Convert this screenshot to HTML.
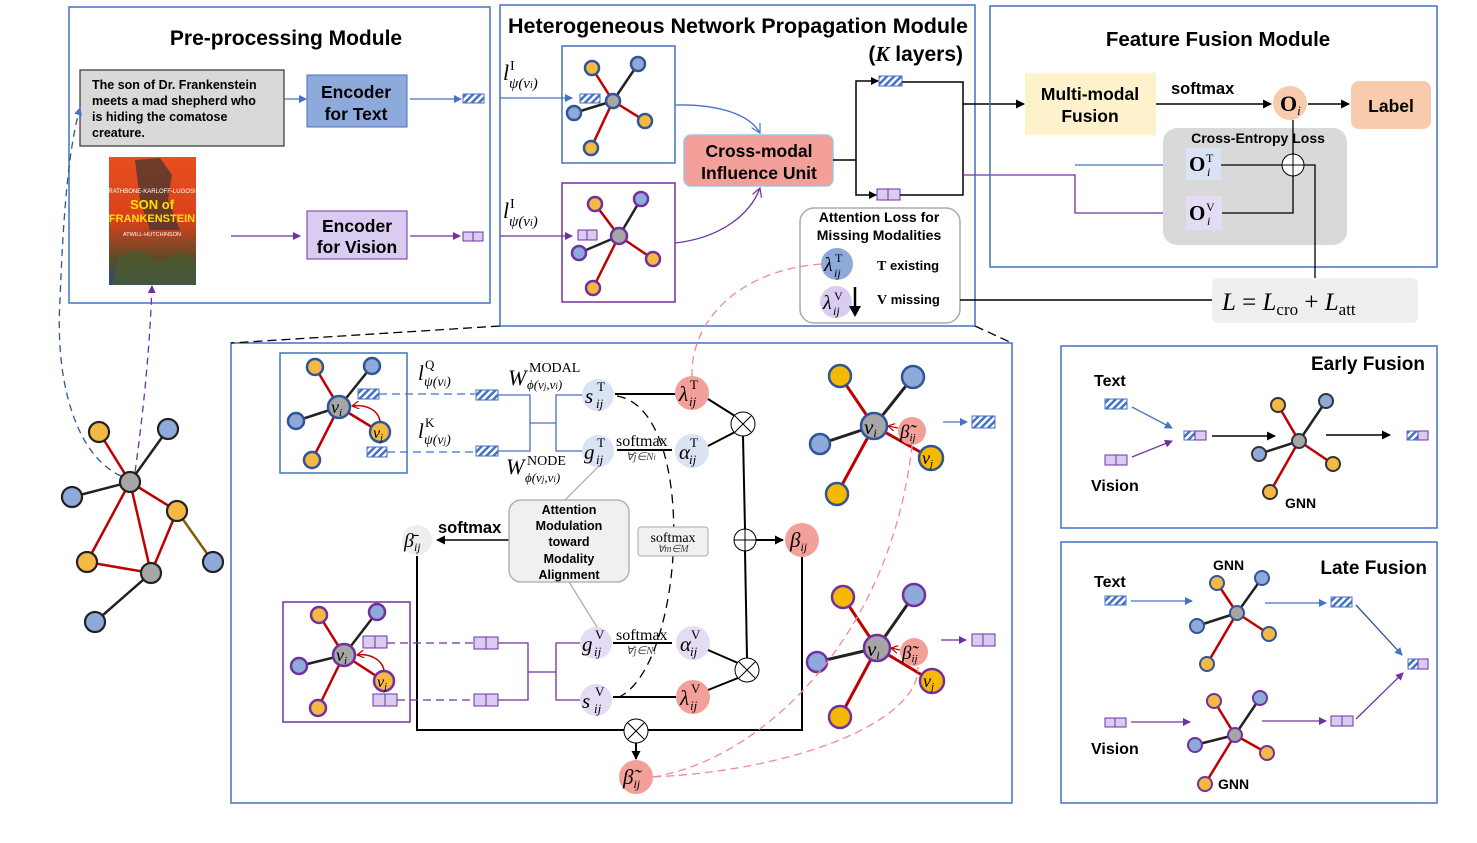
<!DOCTYPE html>
<html><head><meta charset="utf-8"><style>
html,body{margin:0;padding:0;background:#fff}
svg{display:block}
.b{font-family:"Liberation Sans",sans-serif;font-weight:bold}
.m{font-family:"Liberation Serif",serif;font-style:italic}
.r{font-family:"Liberation Serif",serif}
</style></head><body>
<svg width="1477" height="843" viewBox="0 0 1477 843" xmlns="http://www.w3.org/2000/svg">
<defs>
<pattern id="h" width="5" height="5" patternUnits="userSpaceOnUse" patternTransform="rotate(45)">
<rect width="5" height="5" fill="#fff"/><rect width="2.5" height="5" fill="#4472c4"/></pattern>
<marker id="ab" markerWidth="8" markerHeight="8" refX="7" refY="4" orient="auto" markerUnits="userSpaceOnUse"><path d="M0,0L8,4L0,8z" fill="#4472c4"/></marker>
<marker id="ap" markerWidth="8" markerHeight="8" refX="7" refY="4" orient="auto" markerUnits="userSpaceOnUse"><path d="M0,0L8,4L0,8z" fill="#7030a0"/></marker>
<marker id="ak" markerWidth="9" markerHeight="9" refX="8" refY="4.5" orient="auto" markerUnits="userSpaceOnUse"><path d="M0,0L9,4.5L0,9z" fill="#000"/></marker>
<marker id="vb" markerWidth="10" markerHeight="10" refX="9" refY="5" orient="auto" markerUnits="userSpaceOnUse"><path d="M0,0L9,5L0,10" fill="none" stroke="#4472c4" stroke-width="1.2"/></marker>
<marker id="vp" markerWidth="10" markerHeight="10" refX="9" refY="5" orient="auto" markerUnits="userSpaceOnUse"><path d="M0,0L9,5L0,10" fill="none" stroke="#7030a0" stroke-width="1.2"/></marker>
<marker id="vr" markerWidth="8" markerHeight="8" refX="7" refY="4" orient="auto" markerUnits="userSpaceOnUse"><path d="M0,0L7,4L0,8" fill="none" stroke="#c00000" stroke-width="1.2"/></marker>
</defs>

<!-- Pre-processing module -->
<rect x="69" y="7" width="421" height="296" fill="none" stroke="#4472c4" stroke-width="1.5"/>
<text x="286" y="45" class="b" font-size="21" text-anchor="middle">Pre-processing Module</text>
<rect x="80" y="70" width="204" height="76" fill="#d9d9d9" stroke="#333" stroke-width="1.2"/>
<text class="b" font-size="12.5"><tspan x="92" y="89">The son of Dr. Frankenstein</tspan><tspan x="92" y="105">meets a mad shepherd who</tspan><tspan x="92" y="121">is hiding the comatose</tspan><tspan x="92" y="137">creature.</tspan></text>
<rect x="307" y="75" width="100" height="52" fill="#8eaadb" stroke="#4472c4"/>
<text class="b" font-size="17.5" text-anchor="middle"><tspan x="356" y="98">Encoder</tspan><tspan x="356" y="120">for Text</tspan></text>
<rect x="307" y="211" width="100" height="48" fill="#d9ccf0" stroke="#7030a0"/>
<text class="b" font-size="17.5" text-anchor="middle"><tspan x="357" y="232">Encoder</tspan><tspan x="357" y="253">for Vision</tspan></text>
<line x1="284" y1="99" x2="306" y2="99" stroke="#4472c4" stroke-width="1.3" marker-end="url(#ab)"/>
<line x1="410" y1="99" x2="461" y2="99" stroke="#4472c4" stroke-width="1.3" marker-end="url(#ab)"/>
<rect x="463" y="94" width="21" height="9" fill="url(#h)" stroke="#4472c4"/>
<line x1="231" y1="236" x2="300" y2="236" stroke="#7030a0" stroke-width="1.3" marker-end="url(#ap)"/>
<line x1="410" y1="236" x2="460" y2="236" stroke="#7030a0" stroke-width="1.3" marker-end="url(#ap)"/>
<rect x="463" y="232" width="20" height="9" fill="#d9ccf0" stroke="#7030a0"/><line x1="473" y1="232" x2="473" y2="241" stroke="#7030a0"/>
<defs><linearGradient id="pg" x1="0" y1="0" x2="0" y2="1"><stop offset="0" stop-color="#e8501e"/><stop offset="0.5" stop-color="#d8401a"/><stop offset="0.8" stop-color="#5a4a2a"/><stop offset="1" stop-color="#2b4a7a"/></linearGradient></defs>
<rect x="109" y="157" width="87" height="128" fill="url(#pg)"/>
<path d="M135,160 L160,158 L172,175 L168,200 L180,230 L150,230 L140,200 Z" fill="#3a3530" opacity="0.7"/>
<text x="152" y="193" font-family="Liberation Sans" font-size="6" fill="#fff" text-anchor="middle">RATHBONE-KARLOFF-LUGOSI</text>
<text x="152" y="209" class="b" font-size="13" fill="#ffe000" text-anchor="middle">SON of</text>
<text x="152" y="222" class="b" font-size="11" fill="#ffe000" text-anchor="middle">FRANKENSTEIN</text>
<text x="152" y="236" font-family="Liberation Sans" font-size="5.5" fill="#fff" text-anchor="middle">ATWILL-HUTCHINSON</text>
<path d="M112,285 L120,255 L140,250 L160,262 L180,252 L196,262 L196,285 Z" fill="#4a5a30" opacity="0.8"/>

<!-- Heterogeneous module -->
<rect x="500" y="5" width="475" height="321" fill="none" stroke="#4472c4" stroke-width="1.5"/>
<text x="738" y="33" class="b" font-size="21.5" text-anchor="middle">Heterogeneous Network Propagation Module</text>
<text x="963" y="61" class="b" font-size="21" text-anchor="end">(<tspan class="m" font-weight="bold" font-family="Liberation Serif">K</tspan> layers)</text>
<rect x="562" y="46" width="113" height="117" fill="none" stroke="#4472c4" stroke-width="1.5"/>
<rect x="562" y="183" width="113" height="119" fill="none" stroke="#7030a0" stroke-width="1.5"/>
<g stroke-width="2.5">
<line x1="613" y1="101" x2="592" y2="68" stroke="#c00000"/><line x1="613" y1="101" x2="638" y2="64" stroke="#222"/><line x1="613" y1="101" x2="574" y2="113" stroke="#222"/><line x1="613" y1="101" x2="645" y2="121" stroke="#c00000"/><line x1="613" y1="101" x2="591" y2="148" stroke="#c00000"/>
<line x1="619" y1="236" x2="595" y2="204" stroke="#c00000"/><line x1="619" y1="236" x2="641" y2="199" stroke="#222"/><line x1="619" y1="236" x2="579" y2="253" stroke="#222"/><line x1="619" y1="236" x2="653" y2="259" stroke="#c00000"/><line x1="619" y1="236" x2="593" y2="288" stroke="#c00000"/>
</g>
<g stroke="#2f5597" stroke-width="2.5">
<circle cx="592" cy="68" r="7" fill="#f4b942"/><circle cx="638" cy="64" r="7" fill="#8eaadb"/><circle cx="574" cy="113" r="7" fill="#8eaadb"/><circle cx="645" cy="121" r="7" fill="#f4b942"/><circle cx="591" cy="148" r="7" fill="#f4b942"/><circle cx="613" cy="101" r="7" fill="#a6a6a6"/>
</g>
<g stroke="#7030a0" stroke-width="2.5">
<circle cx="595" cy="204" r="7" fill="#f4b942"/><circle cx="641" cy="199" r="7" fill="#8eaadb"/><circle cx="579" cy="253" r="7" fill="#8eaadb"/><circle cx="653" cy="259" r="7" fill="#f4b942"/><circle cx="593" cy="288" r="7" fill="#f4b942"/><circle cx="619" cy="236" r="8" fill="#a6a6a6"/>
</g>
<text x="503" y="80" class="m" font-size="22">l</text><text x="510" y="70" class="r" font-size="14">I</text><text x="509" y="88" class="m" font-size="15">ψ(v<tspan font-size="10">i</tspan>)</text>
<text x="503" y="218" class="m" font-size="22">l</text><text x="510" y="208" class="r" font-size="14">I</text><text x="509" y="226" class="m" font-size="15">ψ(v<tspan font-size="10">i</tspan>)</text>
<line x1="500" y1="98" x2="572" y2="98" stroke="#4472c4" stroke-width="1.3" marker-end="url(#ab)"/>
<rect x="580" y="94" width="20" height="9" fill="url(#h)" stroke="#4472c4"/>
<line x1="500" y1="236" x2="572" y2="236" stroke="#7030a0" stroke-width="1.3" marker-end="url(#ap)"/>
<rect x="578" y="230" width="19" height="10" fill="#d9ccf0" stroke="#7030a0"/><line x1="587" y1="230" x2="587" y2="240" stroke="#7030a0"/>
<rect x="684" y="135" width="149" height="51" rx="7" fill="#f4a09a" stroke="#9dc3e6" stroke-width="1.5"/>
<text class="b" font-size="17.5" text-anchor="middle"><tspan x="759" y="157">Cross-modal</tspan><tspan x="759" y="179">Influence Unit</tspan></text>
<path d="M675,105 C720,104 750,115 760,133" fill="none" stroke="#4472c4" stroke-width="1.3" marker-end="url(#vb)"/>
<path d="M675,243 C720,238 750,215 760,188" fill="none" stroke="#7030a0" stroke-width="1.3" marker-end="url(#vp)"/>
<polyline points="833,160 856,160" fill="none" stroke="#000" stroke-width="1.5"/>
<polyline points="878,81 856,81 856,195 876,195" fill="none" stroke="#000" stroke-width="1.5"/>
<path d="M871,77 L879,81 L871,85z M869,191 L877,195 L869,199z"/>
<rect x="879" y="76" width="23" height="10" fill="url(#h)" stroke="#4472c4"/>
<rect x="877" y="189" width="23" height="11" fill="#d9ccf0" stroke="#7030a0"/><line x1="888" y1="189" x2="888" y2="200" stroke="#7030a0"/>
<polyline points="902,82 963,82 963,195 900,195" fill="none" stroke="#000" stroke-width="1.5"/>
<line x1="963" y1="104" x2="1024" y2="104" stroke="#000" stroke-width="1.5" marker-end="url(#ak)"/>
<polyline points="963,175 1075,175 1075,213 1184,213" fill="none" stroke="#7030a0" stroke-width="1.3" marker-end="url(#ap)"/>
<polyline points="1075,165 1184,165" fill="none" stroke="#4472c4" stroke-width="1.3" marker-end="url(#ab)"/>
<rect x="800" y="208" width="160" height="115" rx="14" fill="#fff" stroke="#aaa" stroke-width="1.5"/>
<text class="b" font-size="14" text-anchor="middle"><tspan x="879" y="222">Attention Loss for</tspan><tspan x="879" y="240">Missing Modalities</tspan></text>
<circle cx="837" cy="264" r="16" fill="#8eaadb"/>
<circle cx="836" cy="302" r="16" fill="#d9ccf0"/>
<text x="824" y="271" class="m" font-size="20">λ</text><text x="835" y="262" class="r" font-size="12">T</text><text x="834" y="277" class="m" font-size="12">ij</text>
<text x="823" y="309" class="m" font-size="20">λ</text><text x="834" y="300" class="r" font-size="12">V</text><text x="833" y="315" class="m" font-size="12">ij</text>
<line x1="855" y1="287" x2="855" y2="309" stroke="#000" stroke-width="2.5"/><path d="M849,306 L861,306 L855,317z"/>
<text x="877" y="270" class="b" font-size="13"><tspan class="r" font-weight="bold" font-size="14">T</tspan> existing</text>
<text x="877" y="304" class="b" font-size="13"><tspan class="r" font-weight="bold" font-size="14">V</tspan> missing</text>
<line x1="960" y1="300" x2="1212" y2="300" stroke="#000" stroke-width="1.5"/>

<!-- Feature Fusion -->
<rect x="990" y="6" width="447" height="261" fill="none" stroke="#4472c4" stroke-width="1.5"/>
<text x="1218" y="46" class="b" font-size="20.5" text-anchor="middle">Feature Fusion Module</text>
<rect x="1025" y="73" width="131" height="62" fill="#fdf2cc"/>
<text class="b" font-size="17.5" text-anchor="middle"><tspan x="1090" y="100">Multi-modal</tspan><tspan x="1090" y="122">Fusion</tspan></text>
<text x="1171" y="94" class="b" font-size="16.5">softmax</text>
<line x1="1156" y1="104" x2="1271" y2="104" stroke="#000" stroke-width="1.5" marker-end="url(#ak)"/>
<circle cx="1290" cy="103" r="17" fill="#f8cbad"/>
<text x="1280" y="111" class="r" font-weight="bold" font-size="22">O<tspan class="m" font-weight="normal" font-size="13" dy="4">i</tspan></text>
<line x1="1308" y1="104" x2="1349" y2="104" stroke="#000" stroke-width="1.5" marker-end="url(#ak)"/>
<rect x="1351" y="81" width="80" height="48" rx="8" fill="#f8cbad"/>
<text x="1391" y="112" class="b" font-size="17.5" text-anchor="middle">Label</text>
<rect x="1163" y="128" width="184" height="117" rx="14" fill="#d9d9d9"/>
<text x="1258" y="143" class="b" font-size="14" text-anchor="middle">Cross-Entropy Loss</text>
<rect x="1186" y="148" width="35" height="32" fill="#dae3f3"/>
<text x="1189" y="171" class="r" font-weight="bold" font-size="21">O</text><text x="1206" y="162" class="r" font-size="12">T</text><text x="1207" y="176" class="m" font-size="12">i</text>
<rect x="1186" y="196" width="36" height="34" fill="#e4dcf5"/>
<text x="1189" y="220" class="r" font-weight="bold" font-size="21">O</text><text x="1206" y="211" class="r" font-size="12">V</text><text x="1207" y="225" class="m" font-size="12">i</text>
<circle cx="1293" cy="165" r="11" fill="#fff" stroke="#000"/><path d="M1282,165H1304M1293,154V176" stroke="#000"/>
<line x1="1221" y1="165" x2="1282" y2="165" stroke="#000" stroke-width="1.3"/>
<polyline points="1222,213 1293,213 1293,176" fill="none" stroke="#000" stroke-width="1.3"/>
<line x1="1293" y1="154" x2="1293" y2="120" stroke="#000" stroke-width="1.3"/>
<polyline points="1304,165 1315,165 1315,278" fill="none" stroke="#000" stroke-width="1.3"/>
<rect x="1212" y="278" width="206" height="45" rx="6" fill="#efefef"/>
<text x="1222" y="310" class="r" font-size="25"><tspan class="m">L</tspan> = <tspan class="m">L</tspan><tspan font-size="17" dy="5">cro</tspan><tspan dy="-5"> + </tspan><tspan class="m">L</tspan><tspan font-size="17" dy="5">att</tspan></text>

<!-- Left graph -->
<g stroke-width="2.5">
<line x1="130" y1="482" x2="99" y2="432" stroke="#c00000"/><line x1="130" y1="482" x2="168" y2="429" stroke="#222"/><line x1="130" y1="482" x2="72" y2="497" stroke="#222"/><line x1="130" y1="482" x2="177" y2="511" stroke="#c00000"/><line x1="130" y1="482" x2="87" y2="562" stroke="#c00000"/><line x1="130" y1="482" x2="151" y2="573" stroke="#c00000"/><line x1="87" y1="562" x2="151" y2="573" stroke="#c00000"/><line x1="151" y1="573" x2="95" y2="622" stroke="#222"/><line x1="177" y1="511" x2="213" y2="562" stroke="#7f6000"/><line x1="177" y1="511" x2="151" y2="573" stroke="#c00000"/>
</g>
<g stroke="#222" stroke-width="2.2">
<circle cx="99" cy="432" r="10" fill="#f4b942"/><circle cx="168" cy="429" r="10" fill="#8eaadb"/><circle cx="72" cy="497" r="10" fill="#8eaadb"/><circle cx="177" cy="511" r="10" fill="#f4b942"/><circle cx="87" cy="562" r="10" fill="#f4b942"/><circle cx="151" cy="573" r="10" fill="#a6a6a6"/><circle cx="95" cy="622" r="10" fill="#8eaadb"/><circle cx="213" cy="562" r="10" fill="#8eaadb"/><circle cx="130" cy="482" r="10" fill="#a6a6a6"/>
</g>
<path d="M121,476 C75,455 55,380 60,300 C63,220 68,150 80,108" fill="none" stroke="#2f5597" stroke-width="1.3" stroke-dasharray="7,5" marker-end="url(#ab)"/>
<path d="M135,472 C145,400 150,340 152,286" fill="none" stroke="#7030a0" stroke-width="1.3" stroke-dasharray="7,5" marker-end="url(#ap)"/>

<!-- Bottom box -->
<rect x="231" y="343" width="781" height="460" fill="none" stroke="#4472c4" stroke-width="1.5"/>
<line x1="500" y1="326" x2="231" y2="343" stroke="#000" stroke-width="1.3" stroke-dasharray="9,5"/>
<line x1="975" y1="326" x2="1012" y2="343" stroke="#000" stroke-width="1.3" stroke-dasharray="9,5"/>

<rect x="280" y="353" width="127" height="120" fill="none" stroke="#4472c4" stroke-width="1.5"/>
<g stroke-width="2.5">
<line x1="339" y1="407" x2="315" y2="367" stroke="#c00000"/><line x1="339" y1="407" x2="372" y2="366" stroke="#222"/><line x1="339" y1="407" x2="296" y2="421" stroke="#222"/><line x1="339" y1="407" x2="380" y2="432" stroke="#c00000"/><line x1="339" y1="407" x2="312" y2="460" stroke="#c00000"/>
</g>
<g stroke="#2f5597" stroke-width="2.5">
<circle cx="315" cy="367" r="8" fill="#f4b942"/><circle cx="372" cy="366" r="8" fill="#8eaadb"/><circle cx="296" cy="421" r="8" fill="#8eaadb"/><circle cx="380" cy="432" r="10" fill="#f4b942"/><circle cx="312" cy="460" r="8" fill="#f4b942"/><circle cx="339" cy="407" r="11" fill="#a6a6a6"/>
</g>
<path d="M380,421 C378,410 366,404 352,406" fill="none" stroke="#c00000" stroke-width="1.5" marker-end="url(#vr)"/>
<text x="331" y="413" class="m" font-size="18">v<tspan font-size="11" dy="3">i</tspan></text>
<text x="373" y="438" class="m" font-size="16">v<tspan font-size="10" dy="3">j</tspan></text>
<rect x="358" y="389" width="21" height="10" fill="url(#h)" stroke="#4472c4"/>
<rect x="367" y="447" width="20" height="10" fill="url(#h)" stroke="#4472c4"/>
<line x1="379" y1="394" x2="475" y2="394" stroke="#4472c4" stroke-width="1.3" stroke-dasharray="8,5"/>
<line x1="387" y1="452" x2="475" y2="452" stroke="#4472c4" stroke-width="1.3" stroke-dasharray="8,5"/>
<rect x="476" y="390" width="22" height="10" fill="url(#h)" stroke="#4472c4"/>
<rect x="476" y="446" width="22" height="10" fill="url(#h)" stroke="#4472c4"/>
<text x="418" y="380" class="m" font-size="21">l</text><text x="425" y="369" class="r" font-size="13">Q</text><text x="424" y="386" class="m" font-size="14">ψ(v<tspan font-size="9">i</tspan>)</text>
<text x="418" y="438" class="m" font-size="21">l</text><text x="425" y="427" class="r" font-size="13">K</text><text x="424" y="444" class="m" font-size="14">ψ(v<tspan font-size="9">j</tspan>)</text>
<polyline points="498,395 530,395 530,451 498,451" fill="none" stroke="#4472c4" stroke-width="1.3"/>
<polyline points="583,395 556,395 556,451 583,451" fill="none" stroke="#4472c4" stroke-width="1.3"/>
<line x1="530" y1="423" x2="556" y2="423" stroke="#4472c4" stroke-width="1.3"/>
<text x="508" y="385" class="m" font-size="22">W</text><text x="529" y="372" class="r" font-size="14">MODAL</text><text x="527" y="389" class="m" font-size="13">ϕ(v<tspan font-size="9">j</tspan>,v<tspan font-size="9">i</tspan>)</text>
<text x="506" y="474" class="m" font-size="22">W</text><text x="527" y="465" class="r" font-size="14">NODE</text><text x="525" y="482" class="m" font-size="13">ϕ(v<tspan font-size="9">j</tspan>,v<tspan font-size="9">i</tspan>)</text>

<path d="M617,396 C700,410 685,670 617,698" fill="none" stroke="#000" stroke-width="1.3" stroke-dasharray="9,6"/>
<line x1="615" y1="394" x2="676" y2="394" stroke="#000" stroke-width="2"/>
<line x1="617" y1="450" x2="672" y2="450" stroke="#000" stroke-width="2"/>
<line x1="613" y1="643" x2="672" y2="643" stroke="#000" stroke-width="2"/>
<line x1="613" y1="697" x2="676" y2="697" stroke="#000" stroke-width="2"/>
<circle cx="598" cy="395" r="16" fill="#dae3f3"/><circle cx="598" cy="451" r="16" fill="#dae3f3"/>
<circle cx="692" cy="393" r="17" fill="#f4a09a"/><circle cx="692" cy="451" r="17" fill="#dae3f3"/>
<circle cx="596" cy="643" r="16" fill="#e4dcf5"/><circle cx="596" cy="700" r="16" fill="#e4dcf5"/>
<circle cx="693" cy="643" r="17" fill="#e4dcf5"/><circle cx="693" cy="697" r="17" fill="#f4a09a"/>
<g font-size="21" class="m">
<text x="585" y="403">s</text><text x="584" y="459">g</text><text x="679" y="401">λ</text><text x="679" y="459">α</text>
<text x="582" y="651">g</text><text x="582" y="708">s</text><text x="680" y="651">α</text><text x="680" y="705">λ</text>
</g>
<g class="r" font-size="13">
<text x="597" y="391">T</text><text x="597" y="447">T</text><text x="690" y="389">T</text><text x="690" y="447">T</text>
<text x="595" y="639">V</text><text x="595" y="696">V</text><text x="691" y="639">V</text><text x="691" y="693">V</text>
</g>
<g class="m" font-size="13">
<text x="596" y="408">ij</text><text x="596" y="464">ij</text><text x="689" y="406">ij</text><text x="689" y="464">ij</text>
<text x="594" y="656">ij</text><text x="594" y="713">ij</text><text x="690" y="656">ij</text><text x="690" y="710">ij</text>
</g>
<text x="616" y="446" class="r" font-size="16">softmax</text><text x="626" y="460" class="m" font-size="11" fill="#444">∀j∈N<tspan font-size="8">i</tspan></text>
<text x="616" y="640" class="r" font-size="16">softmax</text><text x="626" y="654" class="m" font-size="11" fill="#444">∀j∈N<tspan font-size="8">i</tspan></text>
<g stroke="#000" stroke-width="2" fill="none">
<line x1="708" y1="399" x2="735" y2="416"/><line x1="708" y1="446" x2="735" y2="432"/>
<line x1="743" y1="436" x2="745" y2="529"/><line x1="745" y1="551" x2="747" y2="658"/>
<line x1="708" y1="650" x2="738" y2="663"/><line x1="708" y1="690" x2="738" y2="678"/>
<polyline points="802,557 802,730 648,730"/><polyline points="624,730 417,730 417,556"/>
</g>
<g stroke="#000" stroke-width="1" fill="#fff">
<circle cx="743" cy="424" r="12"/><circle cx="745" cy="540" r="11"/><circle cx="747" cy="670" r="12"/><circle cx="636" cy="731" r="12"/>
</g>
<path d="M735,416L751,432M751,416L735,432M734,540H756M745,529V551M739,662L755,678M755,662L739,678M628,723L644,739M644,723L628,739" stroke="#000" stroke-width="1"/>
<line x1="756" y1="540" x2="783" y2="540" stroke="#000" stroke-width="2" marker-end="url(#ak)"/>
<circle cx="802" cy="540" r="17" fill="#f4a09a"/>
<text x="790" y="547" class="m" font-size="21">β<tspan font-size="12" dy="4">ij</tspan></text>
<line x1="636" y1="743" x2="636" y2="759" stroke="#000" stroke-width="2" marker-end="url(#ak)"/>
<circle cx="636" cy="777" r="17" fill="#f4a09a"/>
<text x="623" y="784" class="m" font-size="21">β̃<tspan font-size="12" dy="4">ij</tspan></text>
<circle cx="417" cy="540" r="15" fill="#eeeeee"/>
<text x="404" y="547" class="m" font-size="20">β̄<tspan font-size="12" dy="4">ij</tspan></text>
<text x="438" y="533" class="b" font-size="16.5">softmax</text>
<line x1="509" y1="540" x2="437" y2="540" stroke="#000" stroke-width="1.5" marker-end="url(#ak)"/>
<line x1="565" y1="500" x2="598" y2="467" stroke="#aaa" stroke-width="1.2"/>
<line x1="569" y1="582" x2="597" y2="627" stroke="#aaa" stroke-width="1.2"/>
<rect x="509" y="500" width="120" height="82" rx="12" fill="#f0f0f0" stroke="#aaa" stroke-width="1.3"/>
<text class="b" font-size="12.5" text-anchor="middle"><tspan x="569" y="514">Attention</tspan><tspan x="569" y="530">Modulation</tspan><tspan x="569" y="546">toward</tspan><tspan x="569" y="563">Modality</tspan><tspan x="569" y="579">Alignment</tspan></text>
<rect x="638" y="527" width="70" height="29" rx="3" fill="#f0f0f0" stroke="#aaa"/>
<text x="673" y="542" class="r" font-size="14" text-anchor="middle">softmax</text>
<text x="673" y="552" class="m" font-size="10" text-anchor="middle" fill="#444">∀m∈M</text>

<rect x="283" y="602" width="127" height="120" fill="none" stroke="#7030a0" stroke-width="1.5"/>
<g stroke-width="2.5">
<line x1="344" y1="655" x2="319" y2="615" stroke="#c00000"/><line x1="344" y1="655" x2="377" y2="612" stroke="#222"/><line x1="344" y1="655" x2="299" y2="666" stroke="#222"/><line x1="344" y1="655" x2="384" y2="681" stroke="#c00000"/><line x1="344" y1="655" x2="318" y2="708" stroke="#c00000"/>
</g>
<g stroke="#7030a0" stroke-width="2.5">
<circle cx="319" cy="615" r="8" fill="#f4b942"/><circle cx="377" cy="612" r="8" fill="#8eaadb"/><circle cx="299" cy="666" r="8" fill="#8eaadb"/><circle cx="384" cy="681" r="10" fill="#f4b942"/><circle cx="318" cy="708" r="8" fill="#f4b942"/><circle cx="344" cy="655" r="11" fill="#a6a6a6"/>
</g>
<path d="M384,670 C382,660 370,653 357,655" fill="none" stroke="#c00000" stroke-width="1.5" marker-end="url(#vr)"/>
<text x="336" y="661" class="m" font-size="18">v<tspan font-size="11" dy="3">i</tspan></text>
<text x="377" y="687" class="m" font-size="16">v<tspan font-size="10" dy="3">j</tspan></text>
<rect x="363" y="636" width="24" height="12" fill="#d9ccf0" stroke="#7030a0"/><line x1="375" y1="636" x2="375" y2="648" stroke="#7030a0"/>
<rect x="373" y="694" width="24" height="12" fill="#d9ccf0" stroke="#7030a0"/><line x1="385" y1="694" x2="385" y2="706" stroke="#7030a0"/>
<line x1="387" y1="643" x2="474" y2="643" stroke="#7030a0" stroke-width="1.3" stroke-dasharray="8,5"/>
<line x1="397" y1="700" x2="474" y2="700" stroke="#7030a0" stroke-width="1.3" stroke-dasharray="8,5"/>
<rect x="474" y="637" width="24" height="12" fill="#d9ccf0" stroke="#7030a0"/><line x1="486" y1="637" x2="486" y2="649" stroke="#7030a0"/>
<rect x="474" y="694" width="24" height="12" fill="#d9ccf0" stroke="#7030a0"/><line x1="486" y1="694" x2="486" y2="706" stroke="#7030a0"/>
<polyline points="498,643 528,643 528,700 498,700" fill="none" stroke="#7030a0" stroke-width="1.3"/>
<polyline points="580,643 556,643 556,700 580,700" fill="none" stroke="#7030a0" stroke-width="1.3"/>
<line x1="528" y1="672" x2="556" y2="672" stroke="#7030a0" stroke-width="1.3"/>

<g stroke-width="3">
<line x1="874" y1="426" x2="840" y2="376" stroke="#c00000"/><line x1="874" y1="426" x2="913" y2="377" stroke="#222"/><line x1="874" y1="426" x2="820" y2="444" stroke="#222"/><line x1="874" y1="426" x2="837" y2="494" stroke="#c00000"/><line x1="874" y1="426" x2="931" y2="458" stroke="#c00000"/>
<line x1="877" y1="648" x2="843" y2="597" stroke="#c00000"/><line x1="877" y1="648" x2="914" y2="595" stroke="#222"/><line x1="877" y1="648" x2="817" y2="662" stroke="#222"/><line x1="877" y1="648" x2="840" y2="717" stroke="#c00000"/><line x1="877" y1="648" x2="932" y2="681" stroke="#c00000"/>
</g>
<g stroke="#2f5597" stroke-width="2.5">
<circle cx="840" cy="376" r="11" fill="#f4b900"/><circle cx="913" cy="377" r="11" fill="#8eaadb"/><circle cx="820" cy="444" r="10" fill="#8eaadb"/><circle cx="837" cy="494" r="11" fill="#f4b900"/><circle cx="931" cy="458" r="12" fill="#f4b900"/><circle cx="874" cy="426" r="13" fill="#a6a6a6"/>
</g>
<g stroke="#7030a0" stroke-width="2.5">
<circle cx="843" cy="597" r="11" fill="#f4b900"/><circle cx="914" cy="595" r="11" fill="#8eaadb"/><circle cx="817" cy="662" r="10" fill="#8eaadb"/><circle cx="840" cy="717" r="11" fill="#f4b900"/><circle cx="932" cy="681" r="12" fill="#f4b900"/><circle cx="877" cy="648" r="13" fill="#a6a6a6"/>
</g>
<circle cx="912" cy="431" r="14" fill="#f4a09a"/><circle cx="914" cy="652" r="14" fill="#f4a09a"/>
<line x1="898" y1="428" x2="888" y2="426" stroke="#c00000" stroke-width="1.2" marker-end="url(#vr)"/>
<line x1="900" y1="650" x2="891" y2="648" stroke="#c00000" stroke-width="1.2" marker-end="url(#vr)"/>
<text x="864" y="434" class="m" font-size="21">v<tspan font-size="12" dy="3">i</tspan></text>
<text x="867" y="656" class="m" font-size="21">v<tspan font-size="12" dy="3">i</tspan></text>
<text x="922" y="464" class="m" font-size="18">v<tspan font-size="11" dy="3">j</tspan></text>
<text x="923" y="687" class="m" font-size="18">v<tspan font-size="11" dy="3">j</tspan></text>
<text x="900" y="438" class="m" font-size="19">β̃<tspan font-size="11" dy="3">ij</tspan></text>
<text x="902" y="659" class="m" font-size="19">β̃<tspan font-size="11" dy="3">ij</tspan></text>
<line x1="943" y1="422" x2="967" y2="422" stroke="#4472c4" stroke-width="1.3" marker-end="url(#ab)"/>
<rect x="972" y="416" width="23" height="12" fill="url(#h)" stroke="#4472c4"/>
<line x1="941" y1="640" x2="966" y2="640" stroke="#7030a0" stroke-width="1.3" marker-end="url(#ap)"/>
<rect x="972" y="634" width="23" height="12" fill="#d9ccf0" stroke="#7030a0"/><line x1="983" y1="634" x2="983" y2="646" stroke="#7030a0"/>

<g fill="none" stroke="#f08a94" stroke-width="1.3" stroke-dasharray="8,5">
<path d="M692,377 C690,320 740,270 821,264"/>
<path d="M653,777 C760,760 890,640 912,446"/>
<path d="M653,777 C800,770 920,720 918,667"/>
</g>

<!-- Early Fusion -->
<rect x="1061" y="346" width="376" height="182" fill="none" stroke="#4472c4" stroke-width="1.5"/>
<text x="1425" y="370" class="b" font-size="19" text-anchor="end">Early Fusion</text>
<text x="1094" y="386" class="b" font-size="16">Text</text>
<text x="1091" y="491" class="b" font-size="16">Vision</text>
<rect x="1105" y="399" width="22" height="10" fill="url(#h)" stroke="#4472c4"/>
<rect x="1105" y="455" width="22" height="10" fill="#d9ccf0" stroke="#7030a0"/><line x1="1116" y1="455" x2="1116" y2="465" stroke="#7030a0"/>
<line x1="1132" y1="407" x2="1172" y2="428" stroke="#4472c4" stroke-width="1.3" marker-end="url(#ab)"/>
<line x1="1132" y1="457" x2="1172" y2="441" stroke="#7030a0" stroke-width="1.3" marker-end="url(#ap)"/>
<rect x="1184" y="431" width="11" height="9" fill="url(#h)" stroke="#4472c4"/><rect x="1195" y="431" width="11" height="9" fill="#d9ccf0" stroke="#7030a0"/>
<line x1="1212" y1="436" x2="1275" y2="436" stroke="#000" stroke-width="1.5" marker-end="url(#ak)"/>
<g stroke-width="2.5">
<line x1="1299" y1="441" x2="1278" y2="405" stroke="#c00000"/><line x1="1299" y1="441" x2="1326" y2="401" stroke="#222"/><line x1="1299" y1="441" x2="1259" y2="454" stroke="#222"/><line x1="1299" y1="441" x2="1333" y2="464" stroke="#c00000"/><line x1="1299" y1="441" x2="1270" y2="492" stroke="#c00000"/>
</g>
<g stroke="#333" stroke-width="2">
<circle cx="1278" cy="405" r="7" fill="#f4b942"/><circle cx="1326" cy="401" r="7" fill="#8eaadb"/><circle cx="1259" cy="454" r="7" fill="#8eaadb"/><circle cx="1333" cy="464" r="7" fill="#f4b942"/><circle cx="1270" cy="492" r="7" fill="#f4b942"/><circle cx="1299" cy="441" r="7" fill="#a6a6a6"/>
</g>
<text x="1285" y="508" class="b" font-size="14">GNN</text>
<line x1="1326" y1="435" x2="1390" y2="435" stroke="#000" stroke-width="1.5" marker-end="url(#ak)"/>
<rect x="1407" y="431" width="11" height="9" fill="url(#h)" stroke="#4472c4"/><rect x="1418" y="431" width="10" height="9" fill="#d9ccf0" stroke="#7030a0"/>

<!-- Late Fusion -->
<rect x="1061" y="542" width="376" height="261" fill="none" stroke="#4472c4" stroke-width="1.5"/>
<text x="1427" y="574" class="b" font-size="19" text-anchor="end">Late Fusion</text>
<text x="1094" y="587" class="b" font-size="16">Text</text>
<text x="1091" y="754" class="b" font-size="16">Vision</text>
<text x="1213" y="570" class="b" font-size="14">GNN</text>
<text x="1218" y="789" class="b" font-size="14">GNN</text>
<rect x="1105" y="596" width="21" height="9" fill="url(#h)" stroke="#4472c4"/>
<line x1="1131" y1="601" x2="1192" y2="601" stroke="#4472c4" stroke-width="1.3" marker-end="url(#ab)"/>
<g stroke-width="2.5">
<line x1="1237" y1="613" x2="1217" y2="583" stroke="#c00000"/><line x1="1237" y1="613" x2="1262" y2="578" stroke="#222"/><line x1="1237" y1="613" x2="1197" y2="626" stroke="#222"/><line x1="1237" y1="613" x2="1269" y2="634" stroke="#c00000"/><line x1="1237" y1="613" x2="1207" y2="664" stroke="#c00000"/>
<line x1="1235" y1="735" x2="1214" y2="701" stroke="#c00000"/><line x1="1235" y1="735" x2="1260" y2="698" stroke="#222"/><line x1="1235" y1="735" x2="1195" y2="745" stroke="#222"/><line x1="1235" y1="735" x2="1267" y2="753" stroke="#c00000"/><line x1="1235" y1="735" x2="1205" y2="784" stroke="#c00000"/>
</g>
<g stroke="#2f5597" stroke-width="2">
<circle cx="1217" cy="583" r="7" fill="#f4b942"/><circle cx="1262" cy="578" r="7" fill="#8eaadb"/><circle cx="1197" cy="626" r="7" fill="#8eaadb"/><circle cx="1269" cy="634" r="7" fill="#f4b942"/><circle cx="1207" cy="664" r="7" fill="#f4b942"/><circle cx="1237" cy="613" r="7" fill="#a6a6a6"/>
</g>
<g stroke="#7030a0" stroke-width="2">
<circle cx="1214" cy="701" r="7" fill="#f4b942"/><circle cx="1260" cy="698" r="7" fill="#8eaadb"/><circle cx="1195" cy="745" r="7" fill="#8eaadb"/><circle cx="1267" cy="753" r="7" fill="#f4b942"/><circle cx="1205" cy="784" r="7" fill="#f4b942"/><circle cx="1235" cy="735" r="7" fill="#a6a6a6"/>
</g>
<line x1="1265" y1="603" x2="1326" y2="603" stroke="#4472c4" stroke-width="1.3" marker-end="url(#ab)"/>
<rect x="1331" y="597" width="21" height="10" fill="url(#h)" stroke="#4472c4"/>
<line x1="1356" y1="605" x2="1402" y2="655" stroke="#2f5597" stroke-width="1.3" marker-end="url(#ab)"/>
<rect x="1408" y="659" width="10" height="10" fill="url(#h)" stroke="#4472c4"/><rect x="1418" y="659" width="10" height="10" fill="#d9ccf0" stroke="#7030a0"/>
<rect x="1105" y="718" width="21" height="9" fill="#d9ccf0" stroke="#7030a0"/><line x1="1115" y1="718" x2="1115" y2="727" stroke="#7030a0"/>
<line x1="1131" y1="722" x2="1190" y2="722" stroke="#7030a0" stroke-width="1.3" marker-end="url(#ap)"/>
<line x1="1262" y1="721" x2="1326" y2="721" stroke="#7030a0" stroke-width="1.3" marker-end="url(#ap)"/>
<rect x="1331" y="716" width="22" height="10" fill="#d9ccf0" stroke="#7030a0"/><line x1="1342" y1="716" x2="1342" y2="726" stroke="#7030a0"/>
<line x1="1356" y1="719" x2="1403" y2="673" stroke="#7030a0" stroke-width="1.3" marker-end="url(#ap)"/>
</svg>
</body></html>
